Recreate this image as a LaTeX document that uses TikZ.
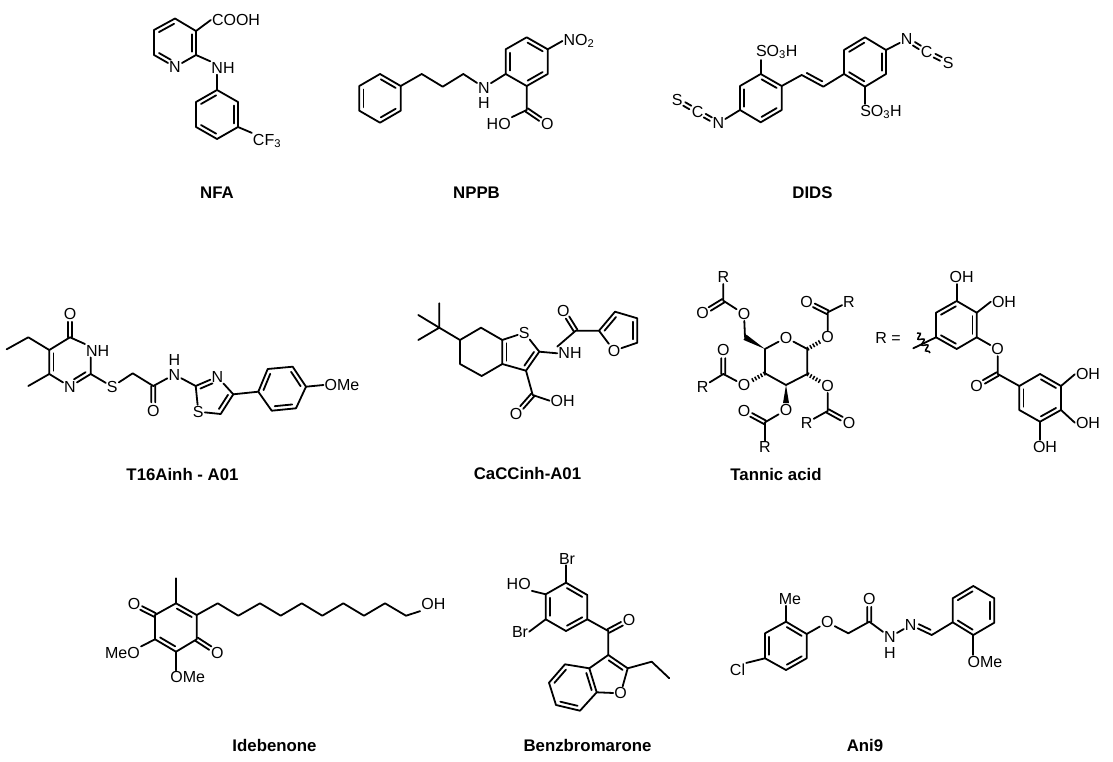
\documentclass[tikz,border=0pt]{standalone}
\usepackage{fontspec}
\setmainfont{Liberation Sans}
\usetikzlibrary{calc, decorations.pathmorphing}
\tikzset{
    bond/.style={line width=1.8pt, line join=round, line cap=round},
    atom/.style={font=\fontsize{16}{18}\selectfont, inner sep=1pt},
    molname/.style={font=\fontsize{16.8}{19}\selectfont\bfseries, inner sep=0pt},
    hashbond/.style={line width=4pt, dash pattern=on 1.5pt off 1.8pt},
    wavy/.style={line width=1.5pt, decorate, decoration={snake, segment length=7pt, amplitude=2.6pt}},
}
\newcommand{\atoms}[1]{\foreach \atomid/\x/\y in {#1} \coordinate (\atomid) at (\x,\y);}
% second line of a double bond, on the left or right of the way a -> b
\newcommand{\inbond}[3][.14]{\draw[bond] ($(#2)!.14!(#3)!4.2pt!90:(#3)$) -- ($(#3)!#1!(#2)!4.2pt!-90:(#2)$);}
\newcommand{\rebond}[3][.14]{\draw[bond] ($(#2)!.14!(#3)!4.2pt!-90:(#3)$) -- ($(#3)!#1!(#2)!4.2pt!90:(#2)$);}
% two equal lines, for C=O and N=C=S
\newcommand{\twobond}[3][0]{
    \draw[bond] ($(#2)!#1!(#3)!2pt!90:(#3)$) -- ($(#3)!.34!(#2)!2pt!-90:(#2)$);
    \draw[bond] ($(#2)!#1!(#3)!2pt!-90:(#3)$) -- ($(#3)!.34!(#2)!2pt!90:(#2)$);
}
\newcommand{\wedgebond}[2]{\fill ($(#2)!3pt!90:(#1)$) -- ($(#2)!3pt!-90:(#1)$) -- (#1) -- cycle;}

\begin{document}
\begin{tikzpicture}[x=1pt, y=-1pt]
    \useasboundingbox (0,0) rectangle (1113,762);

    % NFA
    \atoms{fa1/175/18.5, fa2/154/30, fa3/154/55, fa5/196/55, fa6/196/31,
        fb1/217/90, fb2/196/102, fb3/196/127, fb4/217/139, fb5/238/127, fb6/238/102}
    \node[atom] (fa4) at (175,67) {N};
    \node[atom] (faAcid) at (236,20) {COOH};
    \node[atom] (faNH) at (223,68) {NH};
    \node[atom] (faCF) at (267,141) {CF\textsubscript{3}};
    \node[molname] (faName) at (217,193) {NFA};
    \draw[bond] (fa1) -- (fa2) -- (fa3) -- (fa4) -- (fa5) -- (fa6) -- (fa1);
    \draw[bond] (fb1) -- (fb2) -- (fb3) -- (fb4) -- (fb5) -- (fb6) -- cycle;
    \draw[bond] (fa6) -- (faAcid.west);
    \draw[bond] (fa5) -- (faNH.north west);
    \draw[bond] (fb1) -- (fb1 |- faNH.south);
    \draw[bond] (fb5) -- (faCF.north west);
    \inbond{fa1}{fa2} \inbond[.3]{fa3}{fa4} \inbond{fa5}{fa6}
    \inbond{fb1}{fb2} \inbond{fb3}{fb4} \inbond{fb5}{fb6}

    % NPPB
    \atoms{pa1/380/74, pa2/359.3/86, pa3/359.3/110.7, pa4/380/122.7, pa5/400.7/110.7, pa6/400.7/86,
        pc1/421.7/74, pc2/442.7/86.7, pc3/463.3/74,
        pb1/526.7/37.3, pb2/505.7/49.3, pb3/505.7/74, pb4/526.7/86, pb5/547.7/74, pb6/547.7/49.3,
        pd1/526.7/110}
    \node[atom] (pN) at (484,87.5) {N};
    \node[atom] (pH) at (484,102.5) {H};
    \node[atom] (pNO) at (579,41) {NO\textsubscript{2}};
    \node[atom] (pHO) at (498.7,124) {HO};
    \node[atom] (pO) at (547.3,124) {O};
    \node[molname] (pName) at (476.5,193) {NPPB};
    \draw[bond] (pa1) -- (pa2) -- (pa3) -- (pa4) -- (pa5) -- (pa6) -- cycle;
    \draw[bond] (pb1) -- (pb2) -- (pb3) -- (pb4) -- (pb5) -- (pb6) -- cycle;
    \draw[bond] (pa6) -- (pc1) -- (pc2) -- (pc3) -- (pN);
    \draw[bond] (pN) -- (pb3);
    \draw[bond] (pb6) -- (pNO.west);
    \draw[bond] (pb4) -- (pd1) -- (pHO.north east);
    \twobond{pd1}{pO}
    \inbond{pa6}{pa1} \inbond{pa4}{pa5} \inbond{pa2}{pa3}
    \inbond{pb2}{pb3} \inbond{pb6}{pb1} \inbond{pb4}{pb5}

    % DIDS
    \atoms{da1/865/37.3, da2/844/50, da3/844/74, da4/865/86.7, da5/886/74, da6/886/50,
        db1/760.7/74, db2/740/86, db3/740/110, db4/760.7/122.3, db5/781.7/110, db6/781.7/86,
        dc1/801.7/75, dc2/823.3/86.7}
    \node[atom] (dN1) at (906.7,39.3) {N};
    \node[atom] (dC1) at (926.7,51.7) {C};
    \node[atom] (dS1) at (948.3,62.7) {S};
    \node[atom] (dN2) at (718.3,123.3) {N};
    \node[atom] (dC2) at (697.7,111.7) {C};
    \node[atom] (dS2) at (677.3,100) {S};
    \node[atom] (dSa) at (881,112) {SO\textsubscript{3}H};
    \node[atom] (dSb) at (776.7,52) {SO\textsubscript{3}H};
    \node[molname] (dName) at (812.5,193) {DIDS};
    \draw[bond] (da1) -- (da2) -- (da3) -- (da4) -- (da5) -- (da6) -- cycle;
    \draw[bond] (db1) -- (db2) -- (db3) -- (db4) -- (db5) -- (db6) -- cycle;
    \draw[bond] (db6) -- (dc1) -- (dc2) -- (da3);
    \draw[bond] (da6) -- (dN1);
    \draw[bond] (db3) -- (dN2);
    \draw[bond] (da4) -- (da4 |- dSa.north);
    \draw[bond] (db1) -- (db1 |- dSb.south);
    \twobond[.36]{dN1}{dC1} \twobond[.36]{dC1}{dS1}
    \twobond[.36]{dN2}{dC2} \twobond[.36]{dC2}{dS2}
    \inbond{da1}{da2} \inbond{da3}{da4} \inbond{da5}{da6}
    \inbond{db6}{db1} \inbond{db2}{db3} \inbond{db4}{db5}
    \inbond{dc1}{dc2}

    % T16Ainh - A01
    \atoms{ta1/70/337.3, ta2/49.3/350, ta3/49.3/374, ta5/90.7/374,
        te1/28.3/337.3, te2/6.7/349.3, tm1/28.3/386, tl1/132.7/373.3, tl2/153.3/386,
        tb1/195.7/386, tb3/233.3/394.3, tb4/220.7/414,
        tc1/258.3/391.7, tc2/271.7/410.7, tc3/296/408.3, tc4/306/386.7, tc5/292.7/366.7, tc6/267.7/369}
    \node[atom] (ta4) at (70,386.7) {N};
    \node[atom] (taNH) at (97.7,350.7) {NH};
    \node[atom] (taO) at (70,314) {O};
    \node[atom] (tS) at (112.3,386.7) {S};
    \node[atom] (tO) at (153.3,410.7) {O};
    \node[atom] (tN) at (174.3,374.5) {N};
    \node[atom] (tH) at (174.3,360) {H};
    \node[atom] (tb2) at (217.3,376.7) {N};
    \node[atom] (tb5) at (198.3,411.7) {S};
    \node[atom] (tOMe) at (342,385) {OMe};
    \node[molname] (tName) at (182.5,474) {T16Ainh - A01};
    \draw[bond] (taNH.north west) -- (ta1) -- (ta2) -- (ta3) -- (ta4) -- (ta5) -- (ta5 |- taNH.south);
    \draw[bond] (ta2) -- (te1) -- (te2);
    \draw[bond] (ta3) -- (tm1);
    \draw[bond] (ta5) -- (tS) -- (tl1) -- (tl2) -- (tN) -- (tb1);
    \twobond{ta1}{taO} \twobond{tl2}{tO}
    \draw[bond] (tb1) -- (tb2) -- (tb3) -- (tb4) -- (tb5) -- (tb1);
    \draw[bond] (tb3) -- (tc1);
    \draw[bond] (tc1) -- (tc2) -- (tc3) -- (tc4) -- (tc5) -- (tc6) -- cycle;
    \draw[bond] (tc4) -- (tOMe.west);
    \inbond{ta2}{ta3} \rebond[.3]{ta5}{ta4}
    \rebond[.3]{tb1}{tb2} \rebond{tb3}{tb4}
    \inbond{tc6}{tc1} \inbond{tc2}{tc3} \inbond{tc4}{tc5}

    % CaCCinh-A01
    \atoms{ca1/481/327.7, ca2/460/340, ca3/460/364, ca4/481.7/376, ca5/502.3/364, ca6/502.3/340,
        cu0/439.3/327.7, cu1/439.3/303.3, cu2/418.3/315, cu3/418.3/340,
        cb2/539.3/351.7, cb3/526/370.7, cd1/532.7/395, ce1/575.7/330.7,
        cc1/599/330.7, cc2/615/311.7, cc3/637.3/318.3, cc4/637.3/342.7}
    \node[atom] (caS) at (524.3,332.7) {S};
    \node[atom] (caNH) at (570,353.3) {NH};
    \node[atom] (caO1) at (563.3,310.7) {O};
    \node[atom] (ccO) at (614,350.7) {O};
    \node[atom] (caO2) at (516,414) {O};
    \node[atom] (caOH) at (562.7,400.7) {OH};
    \node[molname] (caName) at (527.5,473) {CaCCinh-A01};
    \draw[bond] (ca1) -- (ca2) -- (ca3) -- (ca4) -- (ca5) -- (ca6) -- cycle;
    \draw[bond] (ca2) -- (cu0) -- (cu1);
    \draw[bond] (cu2) -- (cu0) -- (cu3);
    \draw[bond] (ca6) -- (caS) -- (cb2) -- (cb3) -- (ca5);
    \draw[bond] (cb2) -- (caNH.west);
    \draw[bond] (caNH.north west) -- (ce1) -- (cc1) -- (cc2) -- (cc3) -- (cc4) -- (ccO) -- (cc1);
    \draw[bond] (cb3) -- (cd1) -- (caOH.west);
    \twobond{ce1}{caO1} \twobond{cd1}{caO2}
    \inbond{ca6}{ca5} \rebond{cb2}{cb3}
    \rebond{cc1}{cc2} \rebond{cc3}{cc4}

    % Tannic acid
    \atoms{st1/807.3/349, st2/807.3/374, st3/786/385, st4/765/373.3, st5/765/349,
        sh1/745/337.3, sc1/723.3/300.7, sc2/827.7/312.3, sc3/827.7/411, sc4/765/422.3, sc5/723.3/374,
        sw3/786/403}
    \node[atom] (stO) at (786,337.7) {O};
    \node[atom] (so1) at (744,314) {O};
    \node[atom] (sd1) at (702.7,313.3) {O};
    \node[atom] (sr1) at (723.3,277.3) {R};
    \node[atom] (so2) at (827.7,337.3) {O};
    \node[atom] (sd2) at (806.7,301.7) {O};
    \node[atom] (sr2) at (849,301.7) {R};
    \node[atom] (so3) at (827.7,386) {O};
    \node[atom] (sd3) at (849,422.7) {O};
    \node[atom] (sr3) at (806.7,422.7) {R};
    \node[atom] (so4) at (786,410) {O};
    \node[atom] (sd4) at (744,411) {O};
    \node[atom] (sr4) at (765,447.3) {R};
    \node[atom] (so5) at (744,385) {O};
    \node[atom] (sd5) at (723.3,350) {O};
    \node[atom] (sr5) at (702.7,386.7) {R};
    \node[molname] (sName) at (776,474) {Tannic acid};
    \draw[bond] (stO) -- (st1) -- (st2) -- (st3) -- (st4) -- (st5) -- (stO);
    \wedgebond{st5}{sh1}
    \wedgebond{st3}{sw3}
    \draw[bond] (sh1) -- (so1) -- (sc1) -- (sr1);
    \draw[hashbond] (st1) -- (so2);
    \draw[bond] (so2) -- (sc2) -- (sr2);
    \draw[hashbond] (st2) -- (so3);
    \draw[bond] (so3) -- (sc3) -- (sr3);
    \draw[bond] (so4) -- (sc4) -- (sr4);
    \draw[hashbond] (st4) -- (so5);
    \draw[bond] (so5) -- (sc5) -- (sr5);
    \twobond{sc1}{sd1} \twobond{sc2}{sd2} \twobond{sc3}{sd3} \twobond{sc4}{sd4} \twobond{sc5}{sd5}

    % R group
    \atoms{ra1/956.7/301, ra2/936/312.7, ra3/936/337.3, ra4/956.7/349, ra5/976.7/337.3, ra6/976.7/312.7,
        rb1/1040/374, rb2/1019.3/386, rb3/1019.3/410, rb4/1040/421.7, rb5/1061/410, rb6/1061/386,
        rc1/997.7/374, rw0/913.3/348.3, rw1/917/333, rw2/930/353}
    \node[atom] (rEq) at (888,338.3) {R =};
    \node[atom] (rOHa) at (961.7,277.3) {OH};
    \node[atom] (rOHb) at (1004,301.7) {OH};
    \node[atom] (rO1) at (997.7,349.3) {O};
    \node[atom] (rO2) at (976.7,386) {O};
    \node[atom] (rOHc) at (1088,374.3) {OH};
    \node[atom] (rOHd) at (1088,422.7) {OH};
    \node[atom] (rOHe) at (1045,446.7) {OH};
    \draw[bond] (ra1) -- (ra2) -- (ra3) -- (ra4) -- (ra5) -- (ra6) -- cycle;
    \draw[bond] (rb1) -- (rb2) -- (rb3) -- (rb4) -- (rb5) -- (rb6) -- cycle;
    \draw[bond] (ra3) -- (rw0);
    \draw[wavy] (rw1) -- (rw2);
    \draw[bond] (ra1) -- (ra1 |- rOHa.south);
    \draw[bond] (ra6) -- (rOHb.west);
    \draw[bond] (ra5) -- (rO1) -- (rc1) -- (rb2);
    \twobond{rc1}{rO2}
    \draw[bond] (rb6) -- (rOHc.west);
    \draw[bond] (rb5) -- (rOHd.west);
    \draw[bond] (rb4) -- (rb4 |- rOHe.north);
    \inbond{ra1}{ra2} \inbond{ra3}{ra4} \inbond{ra5}{ra6}
    \inbond{rb6}{rb1} \inbond{rb2}{rb3} \inbond{rb4}{rb5}

    % Idebenone
    \atoms{ia1/176/603.3, ia2/155/615, ia3/155/639.3, ia4/176/651.7, ia5/196.7/639.3, ia6/196.7/615,
        im1/176/578.3,
        il1/217.7/603.3, il2/238.3/615.7, il3/260/603.3, il4/280.7/615.7, il5/301.7/603.3,
        il6/322.3/615.7, il7/343.3/603.3, il8/364/615.7, il9/385/603.3, il0/406/615.7}
    \node[atom] (iO1) at (134,604.3) {O};
    \node[atom] (iO2) at (217.3,652.7) {O};
    \node[atom] (iMeO) at (122.5,653.3) {MeO};
    \node[atom] (iOMe) at (187.8,677.3) {OMe};
    \node[atom] (iOH) at (433.3,604.3) {OH};
    \node[molname] (iName) at (274.5,745) {Idebenone};
    \draw[bond] (ia1) -- (ia2) -- (ia3) -- (ia4) -- (ia5) -- (ia6) -- cycle;
    \draw[bond] (ia1) -- (im1);
    \draw[bond] (ia6) -- (il1) -- (il2) -- (il3) -- (il4) -- (il5) -- (il6) -- (il7) -- (il8) -- (il9) -- (il0) -- (iOH.south west);
    \twobond{ia2}{iO1} \twobond{ia5}{iO2}
    \draw[bond] (ia3) -- (iMeO.north east);
    \draw[bond] (ia4) -- (ia4 |- iOMe.north);
    \inbond{ia6}{ia1} \inbond{ia3}{ia4}

    % Benzbromarone
    \atoms{ba1/566/582.7, ba2/545.7/594.3, ba3/545.7/619.3, ba4/566/631, ba5/587.3/619.3, ba6/587.3/595,
        bk1/608.3/631, bb3/608.3/655, bb2/627.7/668.3,
        bc1/589.3/668.3, bc2/565/664.3, bc3/549/682.7, bc4/556/705, bc5/580/710.7, bc6/596.7/692.3,
        be1/651.7/661.7, be2/669.3/678.3}
    \node[atom] (bBra) at (567,558.5) {Br};
    \node[atom] (bHO) at (518.7,584) {HO};
    \node[atom] (bBrb) at (520,631.7) {Br};
    \node[atom] (bO1) at (629,620) {O};
    \node[atom] (bO2) at (620.7,693.3) {O};
    \node[molname] (bName) at (587.5,745) {Benzbromarone};
    \draw[bond] (ba1) -- (ba2) -- (ba3) -- (ba4) -- (ba5) -- (ba6) -- cycle;
    \draw[bond] (ba1) -- (ba1 |- bBra.south);
    \draw[bond] (ba2) -- (bHO.south east);
    \draw[bond] (ba3) -- (bBrb.east);
    \draw[bond] (ba5) -- (bk1) -- (bb3) -- (bb2) -- (bO2) -- (bc6);
    \twobond{bk1}{bO1}
    \draw[bond] (bb3) -- (bc1);
    \draw[bond] (bc1) -- (bc2) -- (bc3) -- (bc4) -- (bc5) -- (bc6) -- cycle;
    \draw[bond] (bb2) -- (be1) -- (be2);
    \inbond{ba6}{ba1} \inbond{ba2}{ba3} \inbond{ba4}{ba5}
    \rebond{bb3}{bb2}
    \inbond{bc2}{bc3} \inbond{bc4}{bc5} \inbond{bc6}{bc1}

    % Ani9
    \atoms{aa1/786/621.7, aa2/765/633.3, aa3/765/658.3, aa4/786/670, aa5/806.7/658.3, aa6/806.7/634,
        al1/848.3/633.3, al2/869.3/621.7, ac1/931.7/635,
        ab1/973.3/586, ab2/952.7/598.3, ab3/952.7/622.3, ab4/973.3/635, ab5/994.3/622.7, ab6/994.3/598.3}
    \node[atom] (aMe) at (790,599) {Me};
    \node[atom] (aCl) at (737.5,670) {Cl};
    \node[atom] (aO1) at (827.3,622.3) {O};
    \node[atom] (aO2) at (869.3,599.3) {O};
    \node[atom] (aN1) at (890,637) {N};
    \node[atom] (aH) at (890,652.5) {H};
    \node[atom] (aN2) at (910.7,625) {N};
    \node[atom] (aOMe) at (985,661.7) {OMe};
    \node[molname] (aName) at (865,745) {Ani9};
    \draw[bond] (aa1) -- (aa2) -- (aa3) -- (aa4) -- (aa5) -- (aa6) -- cycle;
    \draw[bond] (ab1) -- (ab2) -- (ab3) -- (ab4) -- (ab5) -- (ab6) -- cycle;
    \draw[bond] (aa1) -- (aa1 |- aMe.south);
    \draw[bond] (aa3) -- (aCl.north east);
    \draw[bond] (aa6) -- (aO1) -- (al1) -- (al2) -- (aN1) -- (aN2) -- (ac1) -- (ab3);
    \twobond{al2}{aO2}
    \draw[bond] (ab4) -- (ab4 |- aOMe.north);
    \inbond{aa6}{aa1} \inbond{aa2}{aa3} \inbond{aa4}{aa5}
    \inbond{ab1}{ab2} \inbond{ab3}{ab4} \inbond{ab5}{ab6}
    \rebond[.3]{ac1}{aN2}
\end{tikzpicture}
\end{document}
